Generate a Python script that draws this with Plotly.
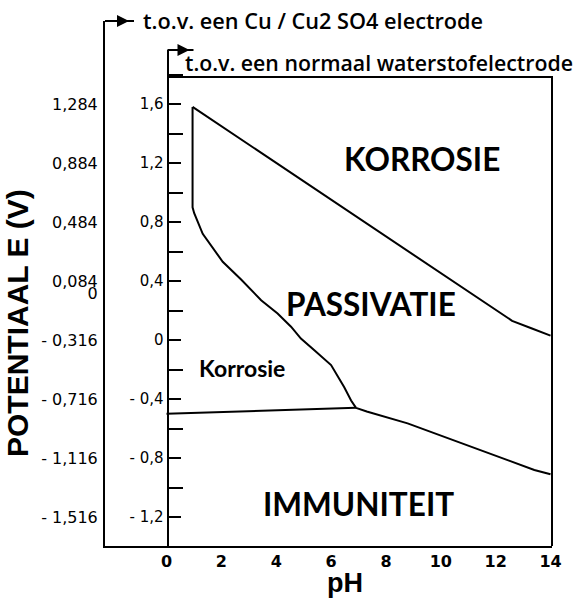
import plotly.graph_objects as go

# ---------------- data ----------------
ph_upper = [0.95, 12.1, 12.6, 13.3, 14.0]
e_upper = [1.58, 0.19, 0.13, 0.08, 0.03]

ph_curve = [0.95, 0.95, 1.01, 1.32, 2.05, 2.72, 3.45, 4.05, 4.54, 4.90, 5.39, 6.00, 6.48, 6.73, 6.91]
e_curve = [1.58, 0.90, 0.86, 0.72, 0.53, 0.41, 0.27, 0.18, 0.09, 0.01, -0.07, -0.17, -0.32, -0.41, -0.46]

ph_horiz = [0.0, 3.1, 6.91]
e_horiz = [-0.50, -0.48, -0.46]

ph_lower = [6.91, 7.3, 8.79, 11.71, 13.41, 14.0]
e_lower = [-0.46, -0.485, -0.565, -0.768, -0.881, -0.91]

ph_major = [0, 2, 4, 6, 8, 10, 12, 14]
ph_minor = [1, 3, 5, 7, 9, 11, 13]

she_major = [1.6, 1.2, 0.8, 0.4, 0.0, -0.4, -0.8, -1.2]
she_labels = ["1,6", "1,2", "0,8", "0,4", "0", "- 0,4", "- 0,8", "- 1,2"]
she_minor = [1.8, 1.4, 1.0, 0.6, 0.2, -0.2, -0.6, -1.0]

cu_offset = 0.316
cu_major = [1.284, 0.884, 0.484, 0.084, 0.0, -0.316, -0.716, -1.116, -1.516]
cu_labels = ["1,284", "0,884", "0,484", "0,084", "0", "- 0,316", "- 0,716", "- 1,116", "- 1,516"]
cu_minor = [1.484, 1.084, 0.684, 0.284, -0.116, -0.516, -0.916, -1.316]

region_labels = ["KORROSIE", "PASSIVATIE", "Korrosie", "IMMUNITEIT"]
region_ph = [9.3, 7.45, 2.75, 7.0]
region_e = [1.23, 0.245, -0.19, -1.11]
region_size = [31.5, 31.5, 23, 31.5]

# ---------------- layout geometry (pixels) ----------------
WIDTH, HEIGHT = 576, 598
L, R, T, B = 105, 552, 21, 546
PW, PH = R - L, B - T
PX_PER_PH = 27.43
X0_PX = 166.5          # pixel of pH 0
PX_PER_V = 147.5
Y0_PX = 340.0          # pixel of E = 0 (SHE)
INNER_TOP = 50
INNER_X = 167.5
BOX_TOP = 77


def fx(p):
    return (p - L) / PW


def fy(p):
    return (B - p) / PH


x_range = [(L - X0_PX) / PX_PER_PH, (R - X0_PX) / PX_PER_PH]
y_inner_range = [(Y0_PX - B) / PX_PER_V, (Y0_PX - INNER_TOP) / PX_PER_V]
y_outer_range = [(Y0_PX - B) / PX_PER_V - cu_offset, (Y0_PX - T) / PX_PER_V - cu_offset]

line_style = dict(color="black", width=2)

fig = go.Figure()
for xs, ys in [(ph_upper, e_upper), (ph_curve, e_curve), (ph_horiz, e_horiz), (ph_lower, e_lower)]:
    fig.add_trace(go.Scatter(x=xs, y=ys, mode="lines", line=line_style,
                             xaxis="x", yaxis="y2", showlegend=False, hoverinfo="skip"))
# empty trace so that the Cu/CuSO4 scale (yaxis) gets drawn
fig.add_trace(go.Scatter(x=[], y=[], mode="lines", xaxis="x", yaxis="y",
                         showlegend=False, hoverinfo="skip"))

fig.update_layout(
    width=WIDTH, height=HEIGHT,
    margin=dict(l=L, r=WIDTH - R, t=T, b=HEIGHT - B, pad=0),
    paper_bgcolor="white", plot_bgcolor="white",
    showlegend=False,
    xaxis=dict(
        domain=[0, 1], range=x_range, anchor="y",
        showgrid=False, zeroline=False,
        showline=True, linecolor="black", linewidth=2,
        tickmode="array", tickvals=ph_major, ticktext=[str(v) for v in ph_major],
        ticks="inside", ticklen=12, tickwidth=2, tickcolor="black",
        tickfont=dict(family="DejaVu Sans", size=16, color="black", weight="bold"),
        minor=dict(tickmode="array", tickvals=ph_minor, ticks="inside", ticklen=7,
                   tickwidth=2, tickcolor="black", showgrid=False),
    ),
    yaxis=dict(
        domain=[0, 1], range=y_outer_range, anchor="x", side="left",
        showgrid=False, zeroline=False,
        showline=True, linecolor="black", linewidth=2,
        tickmode="array", tickvals=cu_major, ticktext=cu_labels,
        ticks="inside", ticklen=9, tickwidth=2, tickcolor="black",
        tickfont=dict(family="DejaVu Sans", size=16, color="black"),
        ticklabelstandoff=2,
        minor=dict(tickmode="array", tickvals=cu_minor, ticks="inside", ticklen=13,
                   tickwidth=2, tickcolor="black", showgrid=False),
    ),
    yaxis2=dict(
        domain=[0, fy(INNER_TOP)], range=y_inner_range, anchor="free",
        position=fx(INNER_X), side="left",
        showgrid=False, zeroline=False,
        showline=True, linecolor="black", linewidth=2,
        tickmode="array", tickvals=she_major, ticktext=she_labels,
        ticks="inside", ticklen=12, tickwidth=2, tickcolor="black",
        tickfont=dict(family="DejaVu Sans", size=15, color="black"),
        minor=dict(tickmode="array", tickvals=she_minor, ticks="inside", ticklen=14,
                   tickwidth=2, tickcolor="black", showgrid=False),
    ),
)

# frame decorations: top of the SHE box, right border, arrows to the axis captions
shapes = [
    dict(type="line", xref="paper", yref="paper", x0=fx(INNER_X), x1=fx(R + 1),
         y0=fy(BOX_TOP), y1=fy(BOX_TOP), line=dict(color="black", width=2)),
    dict(type="line", xref="paper", yref="paper", x0=fx(R), x1=fx(R),
         y0=fy(BOX_TOP), y1=fy(B), line=dict(color="black", width=2)),
    dict(type="line", xref="paper", yref="paper", x0=fx(L), x1=fx(L + 29),
         y0=fy(T), y1=fy(T), line=dict(color="black", width=2)),
    dict(type="line", xref="paper", yref="paper", x0=fx(INNER_X), x1=fx(INNER_X + 26),
         y0=fy(INNER_TOP), y1=fy(INNER_TOP), line=dict(color="black", width=2)),
]
fig.update_layout(shapes=shapes)

annotations = [
    # arrowheads
    dict(xref="paper", yref="paper", x=fx(L + 24), y=fy(T), ax=-14, ay=0,
         showarrow=True, arrowhead=2, arrowsize=1.2, arrowwidth=2, arrowcolor="black", text=""),
    dict(xref="paper", yref="paper", x=fx(INNER_X + 22), y=fy(INNER_TOP), ax=-14, ay=0,
         showarrow=True, arrowhead=2, arrowsize=1.2, arrowwidth=2, arrowcolor="black", text=""),
    # axis captions
    dict(xref="paper", yref="paper", x=fx(141), y=fy(T - 1), xanchor="left", yanchor="middle",
         text="t.o.v. een Cu / Cu2 SO4 electrode", showarrow=False,
         font=dict(family="Open Sans", size=21.7, color="black", weight=600)),
    dict(xref="paper", yref="paper", x=fx(183), y=fy(62), xanchor="left", yanchor="middle",
         text="t.o.v. een normaal waterstofelectrode", showarrow=False,
         font=dict(family="Open Sans", size=21.3, color="black", weight=600)),
    dict(xref="paper", yref="paper", x=fx(345), y=fy(583), xanchor="center", yanchor="middle",
         text="pH", showarrow=False,
         font=dict(family="Liberation Sans", size=27, color="black", weight="bold")),
    dict(xref="paper", yref="paper", x=fx(17), y=fy(323), xanchor="center", yanchor="middle",
         text="POTENTIAAL E (V)", textangle=-90, showarrow=False,
         font=dict(family="Liberation Sans", size=30, color="black", weight="bold")),
]
for txt, xv, yv, sz in zip(region_labels, region_ph, region_e, region_size):
    annotations.append(dict(xref="x", yref="y2", x=xv, y=yv, text=txt, showarrow=False,
                            xanchor="center", yanchor="middle",
                            font=dict(family="Lato", size=sz, color="black", weight="bold")))
fig.update_layout(annotations=annotations)

fig.write_html("out.html", config={"displayModeBar": False},
               post_script="document.body.style.margin='0';")
